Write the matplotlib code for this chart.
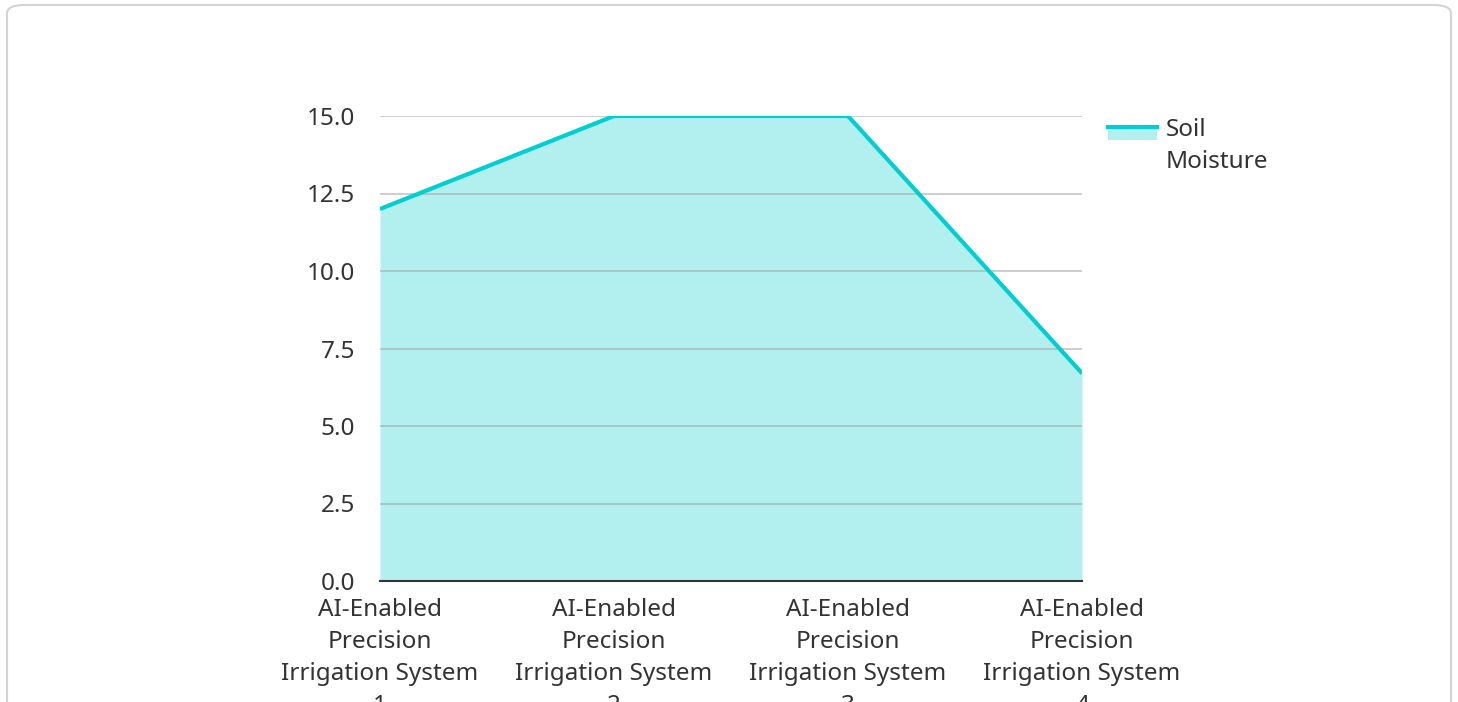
import matplotlib.pyplot as plt
from matplotlib.patches import FancyBboxPatch, Rectangle
from matplotlib.lines import Line2D

plt.rcParams['font.family'] = ['Noto Sans', 'DejaVu Sans']

systems = ['AI-Enabled\nPrecision\nIrrigation System\n1',
           'AI-Enabled\nPrecision\nIrrigation System\n2',
           'AI-Enabled\nPrecision\nIrrigation System\n3',
           'AI-Enabled\nPrecision\nIrrigation System\n4']
soil_moisture = [12.0, 15.0, 15.0, 6.7]
y_ticks = [0.0, 2.5, 5.0, 7.5, 10.0, 12.5, 15.0]
series_name = 'Soil\nMoisture'

line_color = '#00CED1'
fill_color = '#B2F0F0'
text_color = '#333333'
fs = 17.5

W, H = 1458, 702
fig = plt.figure(figsize=(W / 100, H / 100), dpi=100)
fig.patch.set_facecolor('white')

# card outline around the chart
card = FancyBboxPatch((7 / W, -20 / H), 1444 / W, 717 / H,
                      boxstyle='round,pad=0,rounding_size=0.012',
                      transform=fig.transFigure, facecolor='white',
                      edgecolor='#d4d4d4', lw=1.5, zorder=0)
fig.add_artist(card)

ax = fig.add_axes([380 / W, 1 - 581 / H, 702 / W, 465 / H])
ax.set_facecolor('none')

x = list(range(len(systems)))
ax.fill_between(x, soil_moisture, 0, color=fill_color, lw=0, zorder=1)
ax.plot(x, soil_moisture, color=line_color, lw=3, zorder=3,
        solid_capstyle='butt')

ax.set_xlim(0, len(systems) - 1)
ax.set_ylim(0, 15)
ax.set_yticks(y_ticks)
ax.set_yticklabels([f'{v:.1f}' for v in y_ticks])
ax.set_xticks(x)
ax.set_xticklabels(systems, linespacing=1.45)
ax.yaxis.grid(True, color='#a0a0a0', lw=1.2, alpha=0.6, zorder=2)
ax.set_axisbelow(False)
ax.tick_params(axis='both', length=0, labelsize=fs, colors=text_color)
ax.tick_params(axis='y', pad=18)
ax.tick_params(axis='x', pad=12)

for side in ['top', 'right', 'left']:
    ax.spines[side].set_visible(False)
ax.spines['bottom'].set_color(text_color)
ax.spines['bottom'].set_linewidth(1.5)
ax.spines['bottom'].set_zorder(4)

# legend key: filled box with the line along its top edge
fig.add_artist(Rectangle((1108 / W, 1 - 140 / H), 49 / W, 14 / H,
                         transform=fig.transFigure, facecolor=fill_color,
                         edgecolor='none'))
fig.add_artist(Line2D([1108 / W, 1157 / W], [1 - 127 / H, 1 - 127 / H],
                      transform=fig.transFigure, color=line_color, lw=3))
fig.text(1166 / W, 1 - 118 / H, series_name, fontsize=fs, color=text_color,
         va='top', ha='left', linespacing=1.45)

fig.savefig('out.png', dpi=100)
